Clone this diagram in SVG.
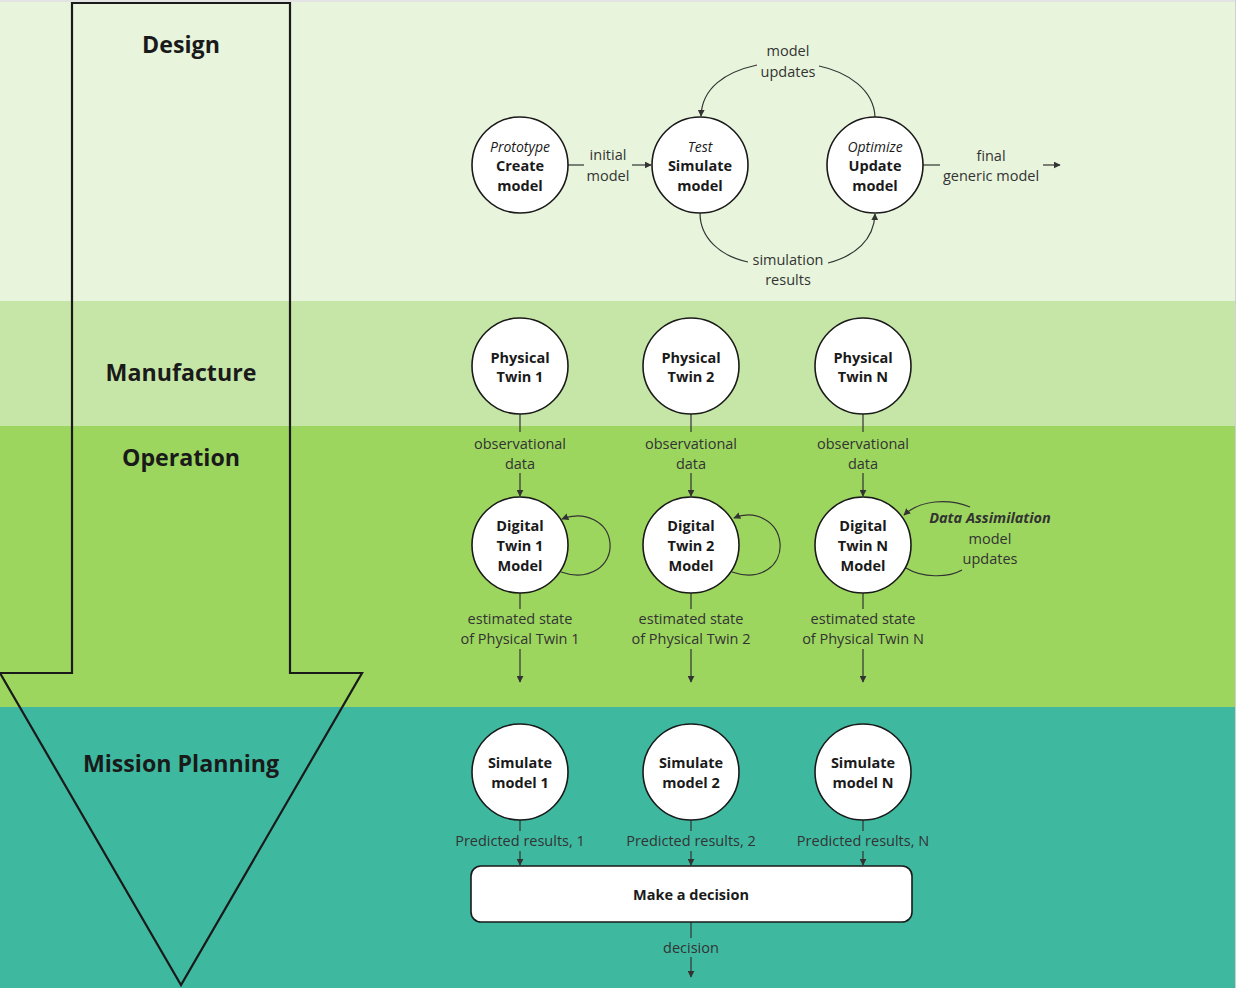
<svg xmlns="http://www.w3.org/2000/svg" width="1236" height="988" viewBox="0 0 1236 988">
<defs>
<marker id="ah" viewBox="0 0 10 10" refX="9" refY="5" markerWidth="7" markerHeight="7" markerUnits="userSpaceOnUse" orient="auto">
<path d="M0,0 L10,5 L0,10 z" fill="#333"/>
</marker>
<style>
.node{fill:#fff;stroke:#1a1a1a;stroke-width:1.6}
.nt{font-family:"Open Sans","Noto Sans",sans-serif;font-size:14.5px;font-weight:bold;fill:#1a1a1a;text-anchor:middle}
.ni{font-family:"Open Sans","Noto Sans",sans-serif;font-size:14px;font-style:italic;fill:#1a1a1a;text-anchor:middle}
.lb{font-family:"Open Sans","Noto Sans",sans-serif;font-size:14.5px;fill:#333;text-anchor:middle}
.band{font-family:"Open Sans","Noto Sans",sans-serif;font-size:23.2px;font-weight:bold;fill:#1a1a1a;text-anchor:middle}
.c{fill:none;stroke:#333;stroke-width:1.2}
.ca{fill:none;stroke:#333;stroke-width:1.2;marker-end:url(#ah)}
</style>
</defs>
<g id="background">
<rect x="0" y="0" width="1236" height="301" fill="#e8f5dc"/>
<rect x="0" y="301" width="1236" height="125" fill="#c5e6a6"/>
<rect x="0" y="426" width="1236" height="281" fill="#9cd65e"/>
<rect x="0" y="707" width="1236" height="281" fill="#3eb9a0"/>
<rect x="0" y="0" width="1236" height="2" fill="#e3e3e3"/>
<line x1="1235.5" y1="0" x2="1235.5" y2="988" stroke="#d0d0d0" stroke-width="1"/>
</g>
<g id="phase-arrow">
<path d="M72,3 L290,3 L290,673 L362,673 L181,985 L0,673 L72,673 Z" fill="none" stroke="#1a1a1a" stroke-width="2.2" stroke-linejoin="miter"/>
<text class="band" x="181" y="53">Design</text>
<text class="band" x="181" y="381">Manufacture</text>
<text class="band" x="181" y="466">Operation</text>
<text class="band" x="181" y="772">Mission Planning</text>
</g>
<g id="connectors">
<line class="c" x1="568" y1="165" x2="584" y2="165"/>
<line class="ca" x1="632" y1="165" x2="651" y2="165"/>
<path class="c" d="M875,117 C874,90 848,72 819,66"/>
<path class="ca" d="M757,65 C725,72 702,88 701,116"/>
<path class="c" d="M700,213 C700,238 720,256 748,262"/>
<path class="ca" d="M828,263 C855,256 874,240 875,214"/>
<line class="c" x1="923" y1="165" x2="940" y2="165"/>
<line class="ca" x1="1043" y1="165" x2="1060" y2="165"/>
<line class="c" x1="520" y1="414" x2="520" y2="432"/>
<line class="ca" x1="520" y1="473" x2="520" y2="496"/>
<line class="c" x1="691" y1="414" x2="691" y2="432"/>
<line class="ca" x1="691" y1="473" x2="691" y2="496"/>
<line class="c" x1="863" y1="414" x2="863" y2="432"/>
<line class="ca" x1="863" y1="473" x2="863" y2="496"/>
<path class="ca" d="M561,572 C590,582 612,565 610,543 C608,522 585,510 562,519"/>
<path class="ca" d="M732,572 C761,582 782,565 780,543 C778,522 756,509 734,518"/>
<path class="c" d="M906,568 C922,578 948,578 962,570"/>
<path class="ca" d="M970,507 C948,498 920,500 904,515"/>
<line class="c" x1="520" y1="593" x2="520" y2="609"/>
<line class="ca" x1="520" y1="649" x2="520" y2="682"/>
<line class="c" x1="691" y1="593" x2="691" y2="609"/>
<line class="ca" x1="691" y1="649" x2="691" y2="682"/>
<line class="c" x1="863" y1="593" x2="863" y2="609"/>
<line class="ca" x1="863" y1="649" x2="863" y2="682"/>
<line class="c" x1="520" y1="820" x2="520" y2="831"/>
<line class="ca" x1="520" y1="851" x2="520" y2="865"/>
<line class="c" x1="691" y1="820" x2="691" y2="831"/>
<line class="ca" x1="691" y1="851" x2="691" y2="865"/>
<line class="c" x1="863" y1="820" x2="863" y2="831"/>
<line class="ca" x1="863" y1="851" x2="863" y2="865"/>
<line class="c" x1="691" y1="922" x2="691" y2="938"/>
<line class="ca" x1="691" y1="957" x2="691" y2="977"/>
<text class="lb" x="608" y="160">initial</text>
<text class="lb" x="608" y="181">model</text>
<text class="lb" x="788" y="56">model</text>
<text class="lb" x="788" y="77">updates</text>
<text class="lb" x="788" y="265">simulation</text>
<text class="lb" x="788" y="285">results</text>
<text class="lb" x="991" y="161">final</text>
<text class="lb" x="991" y="181">generic model</text>
<text class="lb" x="520" y="449">observational</text>
<text class="lb" x="520" y="469">data</text>
<text class="lb" x="691" y="449">observational</text>
<text class="lb" x="691" y="469">data</text>
<text class="lb" x="863" y="449">observational</text>
<text class="lb" x="863" y="469">data</text>
<text class="lb" x="990" y="523" style="font-weight:bold;font-style:italic">Data Assimilation</text>
<text class="lb" x="990" y="544">model</text>
<text class="lb" x="990" y="564">updates</text>
<text class="lb" x="520" y="624">estimated state</text>
<text class="lb" x="520" y="644">of Physical Twin 1</text>
<text class="lb" x="691" y="624">estimated state</text>
<text class="lb" x="691" y="644">of Physical Twin 2</text>
<text class="lb" x="863" y="624">estimated state</text>
<text class="lb" x="863" y="644">of Physical Twin N</text>
<text class="lb" x="520" y="846">Predicted results, 1</text>
<text class="lb" x="691" y="846">Predicted results, 2</text>
<text class="lb" x="863" y="846">Predicted results, N</text>
<text class="lb" x="691" y="953">decision</text>
</g>
<g id="prototype"><circle class="node" cx="520" cy="165" r="48"/><text class="ni" x="520" y="152">Prototype</text><text class="nt" x="520" y="171">Create</text><text class="nt" x="520" y="191">model</text></g>
<g id="test"><circle class="node" cx="700" cy="165" r="48"/><text class="ni" x="700" y="152">Test</text><text class="nt" x="700" y="171">Simulate</text><text class="nt" x="700" y="191">model</text></g>
<g id="optimize"><circle class="node" cx="875" cy="165" r="48"/><text class="ni" x="875" y="152">Optimize</text><text class="nt" x="875" y="171">Update</text><text class="nt" x="875" y="191">model</text></g>
<g id="physical1"><circle class="node" cx="520" cy="366" r="48"/><text class="nt" x="520" y="363">Physical</text><text class="nt" x="520" y="382">Twin 1</text></g>
<g id="physical2"><circle class="node" cx="691" cy="366" r="48"/><text class="nt" x="691" y="363">Physical</text><text class="nt" x="691" y="382">Twin 2</text></g>
<g id="physicalN"><circle class="node" cx="863" cy="366" r="48"/><text class="nt" x="863" y="363">Physical</text><text class="nt" x="863" y="382">Twin N</text></g>
<g id="digital1"><circle class="node" cx="520" cy="545" r="48"/><text class="nt" x="520" y="531">Digital</text><text class="nt" x="520" y="551">Twin 1</text><text class="nt" x="520" y="571">Model</text></g>
<g id="digital2"><circle class="node" cx="691" cy="545" r="48"/><text class="nt" x="691" y="531">Digital</text><text class="nt" x="691" y="551">Twin 2</text><text class="nt" x="691" y="571">Model</text></g>
<g id="digitalN"><circle class="node" cx="863" cy="545" r="48"/><text class="nt" x="863" y="531">Digital</text><text class="nt" x="863" y="551">Twin N</text><text class="nt" x="863" y="571">Model</text></g>
<g id="simulate1"><circle class="node" cx="520" cy="772" r="48"/><text class="nt" x="520" y="768">Simulate</text><text class="nt" x="520" y="788">model 1</text></g>
<g id="simulate2"><circle class="node" cx="691" cy="772" r="48"/><text class="nt" x="691" y="768">Simulate</text><text class="nt" x="691" y="788">model 2</text></g>
<g id="simulateN"><circle class="node" cx="863" cy="772" r="48"/><text class="nt" x="863" y="768">Simulate</text><text class="nt" x="863" y="788">model N</text></g>
<g id="decision"><rect class="node" x="471" y="866" width="441" height="56" rx="10"/><text class="nt" x="691" y="900">Make a decision</text></g>
</svg>
